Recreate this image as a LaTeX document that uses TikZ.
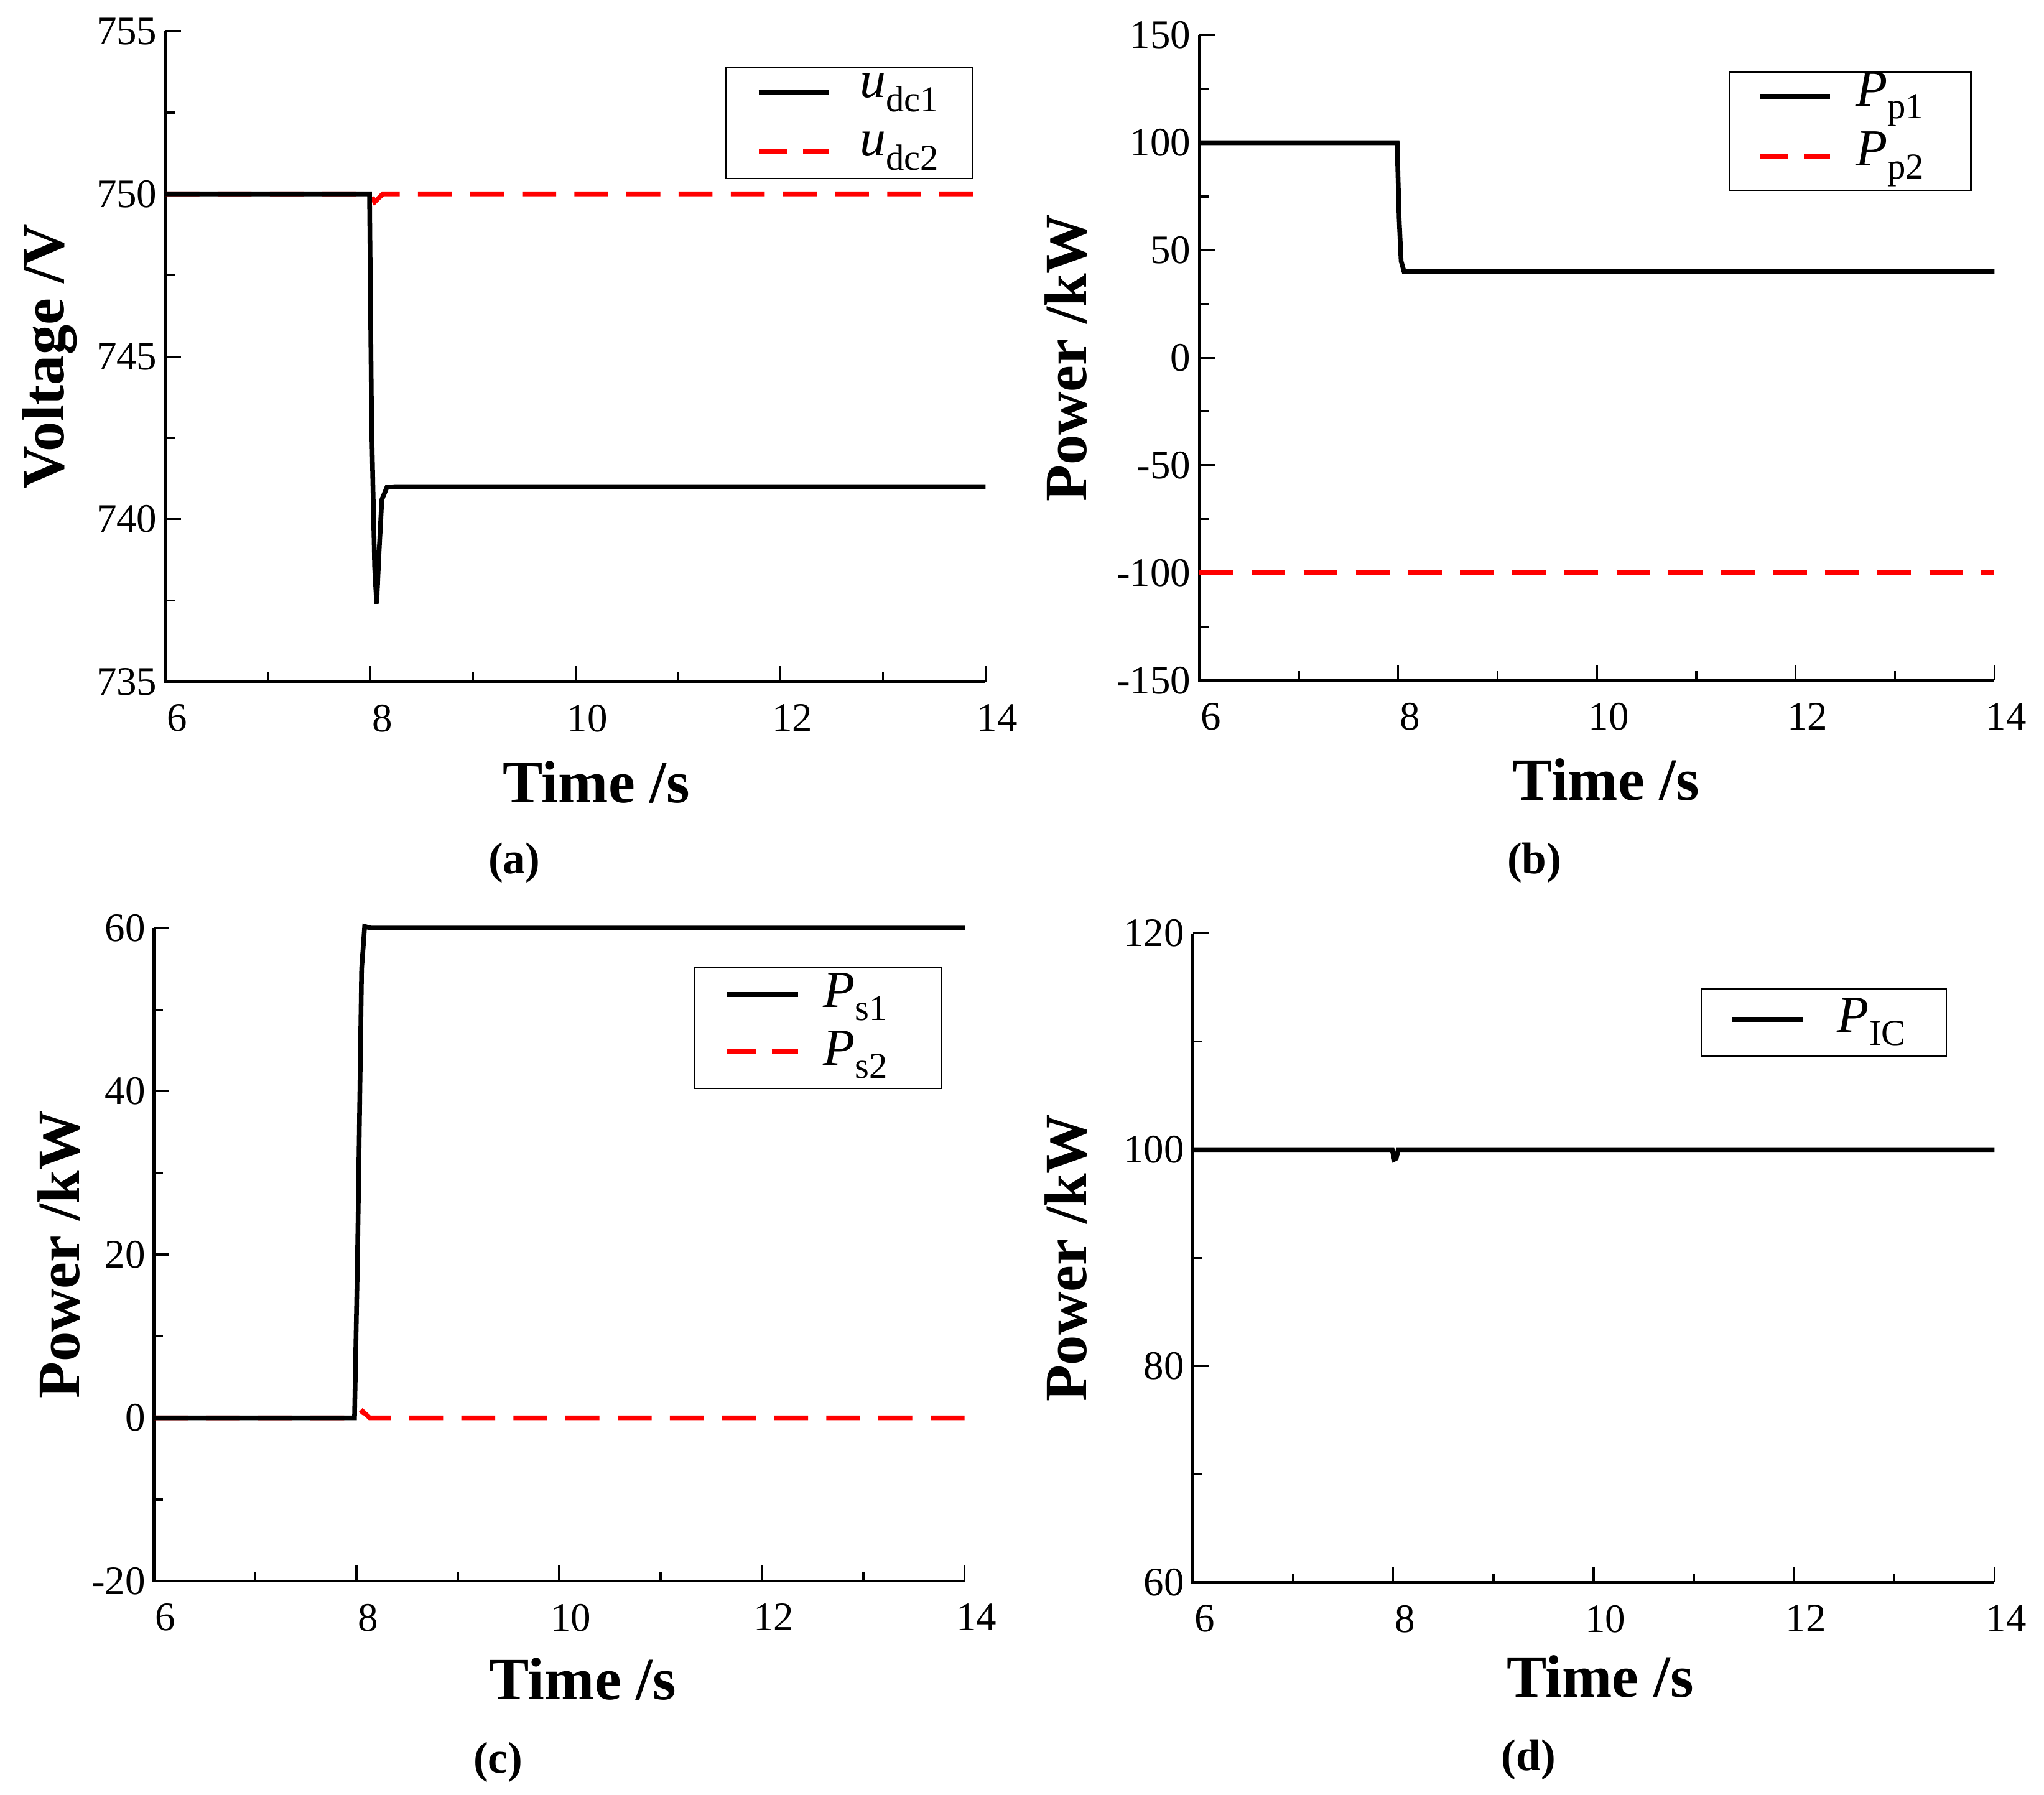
\documentclass[tikz,border=0pt]{standalone}
\usepackage{fontspec}
\setmainfont{Liberation Serif}
\begin{document}
\begin{tikzpicture}[x=1pt,y=-1pt,
  ax/.style={line width=2.2pt},
  tk/.style={line width=1.6pt},
  blk/.style={line width=3.6pt,black},
  rd/.style={line width=3.6pt,red,dash pattern=on 26pt off 14pt},
  tl/.style={font=\fontsize{31}{31}\selectfont},
  lab/.style={font=\fontsize{46}{46}\selectfont\bfseries},
  captxt/.style={font=\fontsize{34}{34}\selectfont\bfseries},
  leg/.style={draw,line width=1.2pt,fill=white},
  lt/.style={font=\fontsize{40}{40}\selectfont\itshape}]
\useasboundingbox (0,0) rectangle (1568,1377);
\newcommand\xaxis{%
  \foreach \t/\l in {0/6,2/8,4/10,6/12,8/14}{\draw[tk] (\t,0) -- ++(0,12pt); \node[tl,anchor=north] at ([xshift=9pt,yshift=-14pt]\t,0) {\l};}
  \foreach \t in {1,3,5,7}{\draw[tk] (\t,0) -- ++(0,7pt);}}
% ---------- (a)
\begin{scope}[shift={(127,523)},x=78.625pt,y=24.95pt]
\draw[ax] (0,20) -- (0,0) -- (8,0);
\xaxis
\foreach \v/\l in {0/735,5/740,10/745,15/750,20/755}{\draw[tk] (0,\v) -- ++(12pt,0); \node[tl,anchor=east] at ([xshift=-3pt]0,\v) {\l};}
\foreach \v in {2.5,7.5,12.5,17.5}{\draw[tk] (0,\v) -- ++(7pt,0);}
\draw[rd] (0,15) -- (2,15) -- (2.04,14.75) -- (2.12,15) -- (8,15);
\draw[blk] (0,15) -- (1.99,15) -- (2.01,8) -- (2.04,3.5) -- (2.06,2.4) -- (2.08,3.8) -- (2.11,5.6) -- (2.16,5.98) -- (2.25,6) -- (8,6);
\node[lab,rotate=90] (ya) at ([xshift=-89pt]0,10) {Voltage /V};
\node[lab] (xa) at ([xshift=16pt,yshift=-77pt]4,0) {Time /s};
\node[captxt] (ca) at ([xshift=-47pt,yshift=-139pt]4,0) {(a)};
\end{scope}
\node[leg,minimum width=189pt,minimum height=85pt] (la) at (651.5,94.5) {};
\draw[blk] (582,71) -- (636,71); \node[lt,anchor=west] at (656,71) {u\textsubscript{\upshape dc1}};
\draw[rd,dash pattern=on 22pt off 12pt] (582,116) -- (636,116); \node[lt,anchor=west] at (656,116) {u\textsubscript{\upshape dc2}};
% ---------- (b)
\begin{scope}[shift={(920,522)},x=76.25pt,y=1.65pt]
\draw[ax] (0,300) -- (0,0) -- (8,0);
\xaxis
\foreach \v/\l in {0/-150,50/-100,100/-50,150/0,200/50,250/100,300/150}{\draw[tk] (0,\v) -- ++(12pt,0); \node[tl,anchor=east] at ([xshift=-3pt]0,\v) {\l};}
\foreach \v in {25,75,125,175,225,275}{\draw[tk] (0,\v) -- ++(7pt,0);}
\draw[rd] (0,50) -- (8,50);
\draw[blk] (0,250) -- (1.99,250) -- (2.01,215) -- (2.03,195) -- (2.06,190) -- (8,190);
\node[lab,rotate=90] at ([xshift=-102pt]0,150) {Power /kW};
\node[lab] at ([xshift=7pt,yshift=-76pt]4,0) {Time /s};
\node[captxt] at ([xshift=-48pt,yshift=-140pt]4,0) {(b)};
\end{scope}
\node[leg,minimum width=185pt,minimum height=91pt] (lb) at (1419.5,100.5) {};
\draw[blk] (1350,74) -- (1404,74); \node[lt,anchor=west] at (1420,76) {P\textsubscript{\upshape p1}};
\draw[rd,dash pattern=on 22pt off 12pt] (1350,120) -- (1404,120); \node[lt,anchor=west] at (1420,122) {P\textsubscript{\upshape p2}};
% ---------- (c)
\begin{scope}[shift={(118,1213)},x=77.75pt,y=6.2625pt]
\draw[ax] (0,80) -- (0,0) -- (8,0);
\xaxis
\foreach \v/\l in {0/-20,20/0,40/20,60/40,80/60}{\draw[tk] (0,\v) -- ++(12pt,0); \node[tl,anchor=east] at ([xshift=-3pt]0,\v) {\l};}
\foreach \v in {10,30,50,70}{\draw[tk] (0,\v) -- ++(7pt,0);}
\draw[rd] (0,20) -- (2,20) -- (2.06,20.8) -- (2.13,20) -- (8,20);
\draw[blk] (0,20) -- (1.98,20) -- (2.01,40) -- (2.05,75) -- (2.08,80.2) -- (2.14,80) -- (8,80);
\node[lab,rotate=90] at ([xshift=-73pt]0,40) {Power /kW};
\node[lab] at ([xshift=18pt,yshift=-75pt]4,0) {Time /s};
\node[captxt] at ([xshift=-47pt,yshift=-139pt]4,0) {(c)};
\end{scope}
\node[leg,minimum width=189pt,minimum height=93pt] (lc) at (627.5,788.5) {};
\draw[blk] (558,763) -- (612,763); \node[lt,anchor=west] at (628,765) {P\textsubscript{\upshape s1}};
\draw[rd,dash pattern=on 22pt off 12pt] (558,807) -- (612,807); \node[lt,anchor=west] at (628,809) {P\textsubscript{\upshape s2}};
% ---------- (d)
\begin{scope}[shift={(915,1214)},x=76.875pt,y=8.3pt]
\draw[ax] (0,60) -- (0,0) -- (8,0);
\xaxis
\foreach \v/\l in {0/60,20/80,40/100,60/120}{\draw[tk] (0,\v) -- ++(12pt,0); \node[tl,anchor=east] at ([xshift=-3pt]0,\v) {\l};}
\foreach \v in {10,30,50}{\draw[tk] (0,\v) -- ++(7pt,0);}
\draw[blk] (0,40) -- (1.99,40) -- (2.01,39.1) -- (2.03,39.2) -- (2.05,40) -- (8,40);
\node[lab,rotate=90] at ([xshift=-97pt]0,30) {Power /kW};
\node[lab] at ([xshift=5pt,yshift=-72pt]4,0) {Time /s};
\node[captxt] at ([xshift=-50pt,yshift=-136pt]4,0) {(d)};
\end{scope}
\node[leg,minimum width=188pt,minimum height=51pt] (ld) at (1399,784.5) {};
\draw[blk] (1329,782) -- (1383,782); \node[lt,anchor=west] at (1406,784) {P\textsubscript{\upshape IC}};
\end{tikzpicture}
\end{document}
